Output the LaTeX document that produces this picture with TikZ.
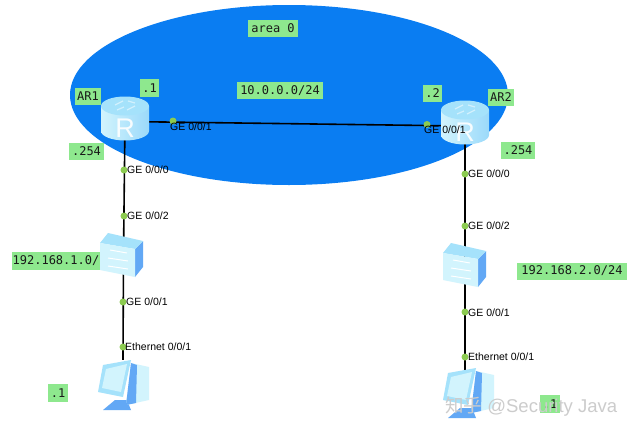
\documentclass[tikz,border=0pt]{standalone}
\usepackage{fontspec}
\setmainfont{Liberation Sans}
\newfontfamily\monof{DejaVu Sans Mono}
\newfontfamily\cjkf{Noto Sans CJK SC}
\usetikzlibrary{shapes.geometric}
\definecolor{areablue}{HTML}{0A7DF2}
\definecolor{tagfill}{HTML}{8EE88E}
\definecolor{dotgreen}{HTML}{8CCB50}
\definecolor{iconlight}{HTML}{D2F4FD}
\definecolor{iconmid}{HTML}{A5E2FB}
\definecolor{iconblue}{HTML}{62A8F5}
\tikzset{
  tag/.style={fill=tagfill,inner sep=0pt,font=\monof\fontsize{12}{14}\selectfont,text=black!90},
  port/.style={font=\fontsize{10.5}{12}\selectfont,anchor=west,inner sep=0pt,text=black},
  portdot/.style={circle,fill=dotgreen,inner sep=0pt,minimum size=7pt},
  link/.style={draw=black,line width=1.6pt},
  holder/.style={inner sep=0pt,draw=none},
}
\newcommand{\routericon}[2]{%
\begin{scope}[shift={(#1,#2)}]
  \shade[left color=iconlight,right color=iconmid!85!iconblue]
    (-24,-12) -- (-24,13) arc[start angle=180,end angle=0,x radius=24,y radius=9.5] -- (24,-12) -- cycle;
  \fill[iconmid] (0,-12) ellipse[x radius=24,y radius=9.5];
  \draw[white,opacity=.5,line width=1.2pt] (-10,-13) -- (-2,-17) (2,-8) -- (10,-12) (-8,-8) -- (-1,-11) (3,-17) -- (10,-15);
  \node[holder,white,opacity=.9,font=\fontsize{27}{27}\selectfont] at (0,10) {R};
\end{scope}}
\newcommand{\switchicon}[2]{%
\begin{scope}[shift={(#1,#2)}]
  \fill[iconblue] (13,-6) -- (21,-14) -- (21,12) -- (13,22) -- cycle;
  \fill[iconmid] (-22,-12) -- (-14,-22) -- (21,-14) -- (13,-6) -- cycle;
  \fill[iconlight] (-22,-12) -- (13,-6) -- (13,22) -- (-22,15) -- cycle;
  \draw[white,line width=1pt] (-12,-5) -- (5,-2) (-14,3) -- (6,6) (-14,11) -- (6,14);
\end{scope}}
\newcommand{\pcicon}[2]{%
\begin{scope}[shift={(#1,#2)}]
  \fill[iconblue] (-20,25) -- (8,25) -- (4,15) -- (-8,15) -- cycle;
  \fill[iconlight] (8,-22) -- (26,-18) -- (26,15) -- (3,20) -- cycle;
  \fill[iconblue] (8,-22) -- (14,-20) -- (13,18) -- (3,20) -- cycle;
  \fill[iconmid] (-20,-20) -- (8,-25) -- (0,12) -- (-25,7) -- cycle;
  \fill[iconlight] (-17,-16) -- (4,-21) -- (-2,7) -- (-21,3) -- cycle;
\end{scope}}
\begin{document}
\begin{tikzpicture}[x=1pt,y=-1pt]
\useasboundingbox (0,0) rectangle (636,434);
\fill[white] (0,0) rectangle (636,434);
\fill[areablue] (289,95) ellipse[x radius=219,y radius=90];
% anchors for the devices
\node[holder,minimum width=48pt,minimum height=44pt] (ar1) at (125,121.5) {};
\node[holder,minimum width=48pt,minimum height=44pt] (ar2) at (465,126) {};
\node[holder,minimum width=44pt,minimum height=44pt] (sw1) at (123.5,254) {};
\node[holder,minimum width=44pt,minimum height=44pt] (sw2) at (465,265) {};
\node[holder,minimum width=52pt,minimum height=50pt] (pc1) at (123,385) {};
\node[holder,minimum width=52pt,minimum height=46pt] (pc2) at (465,393) {};
% connectors
\draw[link] (ar1.center) -- (ar2.center);
\draw[link] (ar1.center) -- (sw1.center);
\draw[link] (sw1.center) -- (pc1.north);
\draw[link] (ar2.center) -- (sw2.center);
\draw[link] (sw2.center) -- (pc2.north);
% icons
\routericon{125}{118}
\routericon{465}{122}
\switchicon{122}{255}
\switchicon{465}{265}
\pcicon{123}{385}
\pcicon{468}{393}
% port markers
\node[portdot] (d1) at (173,121) {};
\node[portdot] (d2) at (427,124.5) {};
\node[portdot] (d3) at (124,170) {};
\node[portdot] (d4) at (124,216) {};
\node[portdot] (d5) at (123,302) {};
\node[portdot] (d6) at (123,347) {};
\node[portdot] (d7) at (465,174) {};
\node[portdot] (d8) at (465,226) {};
\node[portdot] (d9) at (465,312) {};
\node[portdot] (d10) at (465,357) {};
% port labels
\node[port] (p1) at (170,127) {GE 0/0/1};
\node[port] (p2) at (424,130) {GE 0/0/1};
\node[port] (p3) at (127,170) {GE 0/0/0};
\node[port] (p4) at (127,216) {GE 0/0/2};
\node[port] (p5) at (126,302) {GE 0/0/1};
\node[port] (p6) at (125,347) {Ethernet 0/0/1};
\node[port] (p7) at (468,174) {GE 0/0/0};
\node[port] (p8) at (468,226) {GE 0/0/2};
\node[port] (p9) at (468,313) {GE 0/0/1};
\node[port] (p10) at (468,357) {Ethernet 0/0/1};
% tags
\node[tag,minimum width=50pt,minimum height=17pt] (t1) at (273,28.5) {area 0};
\node[tag,minimum width=86pt,minimum height=17pt] (t2) at (280,90.5) {10.0.0.0/24};
\node[tag,minimum width=19pt,minimum height=18pt] (t3) at (149.5,88) {.1};
\node[tag,minimum width=26pt,minimum height=17pt] (t4) at (88,96.5) {AR1};
\node[tag,minimum width=35pt,minimum height=17pt] (t5) at (86.5,151.5) {.254};
\node[tag,minimum width=19pt,minimum height=17pt] (t6) at (432.5,93) {.2};
\node[tag,minimum width=26pt,minimum height=17pt] (t7) at (501,97) {AR2};
\node[tag,minimum width=34pt,minimum height=17pt] (t8) at (518,150) {.254};
\node[tag,minimum width=88pt,minimum height=18pt] (t9) at (56,261) {192.168.1.0/};
\node[tag,minimum width=110pt,minimum height=17pt] (t10) at (572,271) {192.168.2.0/24};
\node[tag,minimum width=20pt,minimum height=18pt] (t11) at (58,393) {.1};
\node[tag,minimum width=20pt,minimum height=18pt] (t12) at (550,404) {.1};
% watermark
\node[holder,anchor=west,text=gray!40!white,font=\fontsize{18.5}{20}\selectfont] (wm) at (445,407) {{\cjkf 知乎} @Security Java};
\end{tikzpicture}
\end{document}
